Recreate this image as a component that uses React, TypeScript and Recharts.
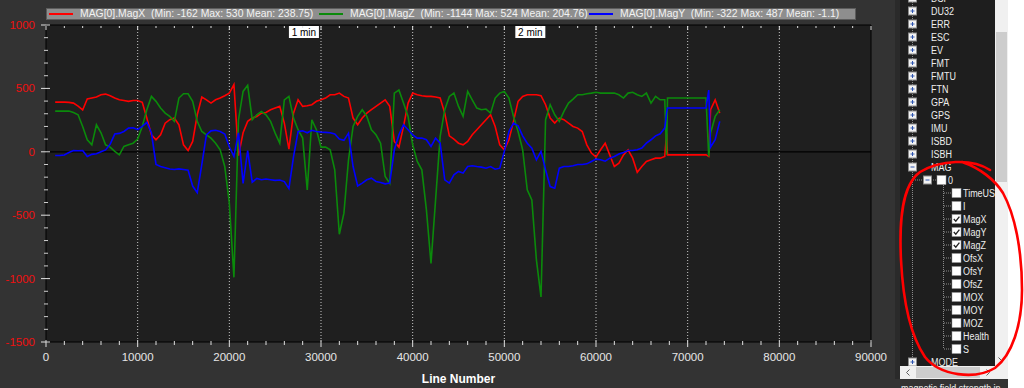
import React from 'react';
import { LineChart, Line, XAxis, YAxis, CartesianGrid, ReferenceLine, Legend } from 'recharts';

// line numbers sampled from the log (x axis)
const lineNumbers = [
  1000, 1500, 2000, 2500, 3000, 3500, 4000, 4500, 5000, 5500,
  6000, 6500, 7000, 7500, 8000, 8500, 9000, 9500, 10000, 10500,
  11000, 11500, 12000, 12500, 13000, 13500, 14000, 14500, 15000, 15500,
  16000, 16500, 17000, 17500, 18000, 18500, 19000, 19500, 20000, 20500,
  21000, 21500, 22000, 22500, 23000, 23500, 24000, 24500, 25000, 25500,
  26000, 26500, 27000, 27500, 28000, 28500, 29000, 29500, 30000, 30500,
  31000, 31500, 32000, 32500, 33000, 33500, 34000, 34500, 35000, 35500,
  36000, 36500, 37000, 37500, 38000, 38500, 39000, 39500, 40000, 40500,
  41000, 41500, 42000, 42500, 43000, 43500, 44000, 44500, 45000, 45500,
  46000, 46500, 47000, 47500, 48000, 48500, 49000, 49500, 50000, 50500,
  51000, 51500, 52000, 52500, 53000, 53500, 54000, 54500, 55000, 55500,
  56000, 56500, 57000, 57500, 58000, 58500, 59000, 59500, 60000, 60500,
  61000, 61500, 62000, 62500, 63000, 63500, 64000, 64500, 65000, 65500,
  66000, 66500, 67000, 67500, 67700, 67800, 68000, 68500, 69000, 69500,
  70000, 70500, 71000, 71500, 72000, 72300, 72500, 73000, 73500,
];

const magX = [
  392, 392, 392, 390, 384, 360, 330, 416, 424, 432,
  450, 455, 442, 424, 410, 405, 398, 405, 405, 390,
  266, 134, 95, 134, 226, 253, 266, 213, 55, 10,
  82, 292, 432, 410, 384, 410, 424, 442, 463, 530,
  -30, 150, 240, 266, 279, 305, 310, 332, 345, 358,
  226, 21, 305, 410, 358, 363, 371, 398, 410, 424,
  450, 450, 463, 437, 424, 266, 213, 266, 305, 332,
  358, 384, 410, 358, 82, 37, 200, 384, 463, 450,
  442, 437, 437, 432, 424, 305, 126, 100, 68, 55,
  82, 134, 174, 213, 253, 292, 200, 55, 16, 95,
  240, 398, 437, 450, 450, 450, 442, 371, 266, 226,
  266, 253, 226, 200, 187, 160, 55, -10, -42, 16,
  68, -24, -116, -90, -24, 16, -50, -162, -116, -76,
  -63, -50, -50, -37, 147, -24, -24, -24, -24, -24,
  -24, -24, -24, -24, -24, -37, 332, 410, 305,
];

const magZ = [
  321, 321, 321, 321, 310, 292, 200, 95, 55, 213,
  150, 55, 37, 3, -24, 42, 55, 68, 100, 200,
  332, 437, 398, 345, 305, 279, 240, 424, 458, 458,
  398, 240, 160, 134, 108, 68, 16, -116, -405, -990,
  253, 476, 524, 253, 292, 318, 292, 240, 147, 68,
  410, 437, 266, 174, 108, -300, 253, 174, 37, 37,
  16, -142, -650, -484, -63, 200, 279, 332, 279, 174,
  134, 68, -195, -248, 463, 487, 384, 279, 55, -76,
  -142, -458, -880, -379, 121, 332, 437, 463, 358, 279,
  476, 410, 345, 332, 337, 305, 424, 463, 476, 424,
  279, 160, 16, -300, -379, -853, -1144, 253, 371, 292,
  240, 318, 384, 416, 450, 450, 458, 463, 469, 463,
  463, 463, 463, 450, 424, 463, 469, 450, 437, 463,
  384, 437, 410, 410, -24, 424, 424, 424, 424, 424,
  424, 424, 424, 424, 424, -37, 147, 279, 332,
];

const magY = [
  -29, -29, -25, -5, 10, 8, 10, -37, -20, -15,
  0, 15, 60, 140, 145, 160, 187, 190, 175, 200,
  232, 150, -100, -116, -125, -135, -140, -135, -140, -145,
  -270, -322, -100, 134, 165, 170, 160, 140, 40, -37,
  150, -250, 10, -240, -210, -220, -215, -220, -225, -222,
  -235, -290, -40, 160, 165, 150, 170, 160, 155, 153,
  150, 140, 100, 90, 147, -116, -269, -247, -221, -208,
  -234, -242, -253, -247, 16, 134, 213, 174, 134, 108,
  108, 95, 42, 108, 68, -221, -247, -182, -155, -168,
  -116, -110, -116, -121, -129, -116, -137, -129, 3, 160,
  226, 205, 126, 68, 29, -63, 3, -142, -274, -287,
  -129, -116, -116, -110, -100, -100, -95, -76, -58, -63,
  -74, -50, -37, -18, -5, 10, 10, 16, 29, 68,
  95, 126, 142, 187, 305, 345, 345, 345, 345, 345,
  345, 345, 345, 345, 345, 487, 37, 95, 240,
];

const seriesKeys = ['magX', 'magZ', 'magY'];
const seriesNames = ['MAG[0].MagX', 'MAG[0].MagZ', 'MAG[0].MagY'];
const seriesStats = [
  '(Min: -162 Max: 530 Mean: 238.75)',
  '(Min: -1144 Max: 524 Mean: 204.76)',
  '(Min: -322 Max: 487 Mean: -1.1)',
];
const seriesColors = ['#ff0000', '#0b8a0b', '#0000ff'];

const yMajorTicks = [-1500, -1000, -500, 0, 500, 1000];
const yTicks = [
  -1500, -1400, -1300, -1200, -1100, -1000, -900, -800, -700, -600, -500, -400, -300,
  -200, -100, 0, 100, 200, 300, 400, 500, 600, 700, 800, 900, 1000,
];
const xMajorTicks = [0, 10000, 20000, 30000, 40000, 50000, 60000, 70000, 80000, 90000];
const xTicks = [
  0, 2000, 4000, 6000, 8000, 10000, 12000, 14000, 16000, 18000, 20000, 22000, 24000,
  26000, 28000, 30000, 32000, 34000, 36000, 38000, 40000, 42000, 44000, 46000, 48000,
  50000, 52000, 54000, 56000, 58000, 60000, 62000, 64000, 66000, 68000, 70000, 72000,
  74000, 76000, 78000, 80000, 82000, 84000, 86000, 88000, 90000,
];
const gridLines = [10000, 20000, 30000, 40000, 50000, 60000, 70000, 80000];
const minuteMarks = [26500, 51200];
const minuteLabels = ['1 min', '2 min'];

const treeGroups = ['DSF', 'DU32', 'ERR', 'ESC', 'EV', 'FMT', 'FMTU', 'FTN', 'GPA', 'GPS', 'IMU', 'ISBD', 'ISBH', 'MAG'];
const magFields = ['TimeUS', 'I', 'MagX', 'MagY', 'MagZ', 'OfsX', 'OfsY', 'OfsZ', 'MOX', 'MOY', 'MOZ', 'Health', 'S'];
const checkedFields = ['MagX', 'MagY', 'MagZ'];

const font = '"Liberation Sans", Arial, sans-serif';

const chartData = lineNumbers.map((line, i) => ({
  line,
  magX: magX[i],
  magY: magY[i],
  magZ: magZ[i],
}));

function YTick(props: any) {
  const { x, y, payload } = props;
  if (!yMajorTicks.includes(payload.value)) {
    return <line x1={x - 2} x2={x + 2} y1={y} y2={y} stroke="#d0d0d0" />;
  }
  return (
    <g>
      <line x1={x - 5} x2={x + 4} y1={y} y2={y} stroke="#e0e0e0" />
      <text x={x - 11} y={y + 4} textAnchor="end" fill="#f01010" fontSize={11.5} fontFamily={font}>
        {payload.value}
      </text>
    </g>
  );
}

function XTick(props: any) {
  const { x, y, payload } = props;
  const major = xMajorTicks.includes(payload.value);
  return (
    <g>
      <line x1={x} x2={x} y1={major ? y - 2 : y - 1} y2={major ? y + 5 : y + 3} stroke="#e0e0e0" />
      {major && (
        <text x={x} y={y + 19} textAnchor="middle" fill="#e6e6e6" fontSize={11.5} fontFamily={font}>
          {payload.value}
        </text>
      )}
    </g>
  );
}

function TopTick(props: any) {
  const { x, y, payload } = props;
  const major = xMajorTicks.includes(payload.value);
  return <line x1={x} x2={x} y1={y + 1} y2={major ? y + 5 : y + 3} stroke="#e0e0e0" />;
}

function MinuteLabel({ viewBox, text }: any) {
  if (!viewBox) return null;
  return (
    <g>
      <rect x={viewBox.x} y={viewBox.y + 1} width={30} height={12} fill="#ffffff" />
      <text x={viewBox.x + 15} y={viewBox.y + 10.5} textAnchor="middle" fill="#000" fontSize={10} fontFamily={font}>
        {text}
      </text>
    </g>
  );
}

function LegendBox() {
  return (
    <div
      style={{
        width: 808,
        height: 10,
        background: '#8e8e8e',
        border: '1px solid #5c5c5c',
        display: 'flex',
        alignItems: 'center',
        fontFamily: font,
        fontSize: 10.4,
        color: '#f2f2f2',
        whiteSpace: 'pre',
        lineHeight: '10px',
      }}
    >
      {seriesNames.map((name, i) => (
        <div key={name} style={{ width: 270, flexShrink: 0, display: 'flex', alignItems: 'center' }}>
          <div style={{ width: 24, flexShrink: 0, height: 2, marginLeft: 2, marginRight: 7, background: seriesColors[i] }} />
          <span>{name + '  ' + seriesStats[i]}</span>
        </div>
      ))}
    </div>
  );
}

function Expander({ cx, cy, open }: { cx: number; cy: number; open: boolean }) {
  return (
    <g>
      <rect x={cx - 4} y={cy - 4} width={8} height={8} fill="#f2f2f2" stroke="#8c8c8c" />
      <line x1={cx - 2} x2={cx + 2} y1={cy} y2={cy} stroke="#2d55b0" />
      {!open && <line x1={cx} x2={cx} y1={cy - 2} y2={cy + 2} stroke="#2d55b0" />}
    </g>
  );
}

function CheckBox({ x, cy, checked }: { x: number; cy: number; checked: boolean }) {
  return (
    <g>
      <rect x={x} y={cy - 4.5} width={9} height={9} fill="#ffffff" stroke="#9a9a9a" strokeWidth={0.5} />
      {checked && (
        <path
          d={`M${x + 1.8} ${cy} L${x + 3.8} ${cy + 2.2} L${x + 7.4} ${cy - 2.4}`}
          stroke="#222"
          strokeWidth={1.3}
          fill="none"
        />
      )}
    </g>
  );
}

function TreeText({ x, y, children }: { x: number; y: number; children: React.ReactNode }) {
  return (
    <text
      transform={`translate(${x} ${y}) scale(0.78 1)`}
      fill="#ededed"
      fontFamily={font}
      fontSize={11.5}
    >
      {children}
    </text>
  );
}

function SidePanel() {
  const rowY = (i: number) => -2 + 13 * i;
  return (
    <svg width={1024} height={388} style={{ position: 'absolute', left: 0, top: 0 }}>
      <rect x={895} y={0} width={5} height={388} fill="#2a2a2a" />
      <rect x={900} y={0} width={95} height={366} fill="#1e1e1e" />
      <line x1={912.5} x2={912.5} y1={0} y2={363} stroke="#8a8a8a" strokeDasharray="1 1" />
      {treeGroups.map((g, i) => (
        <g key={g}>
          <Expander cx={912.5} cy={rowY(i)} open={g === 'MAG'} />
          <TreeText x={931} y={rowY(i) + 4}>{g}</TreeText>
        </g>
      ))}
      {/* channel 0 */}
      <line x1={913} x2={924} y1={rowY(14)} y2={rowY(14)} stroke="#8a8a8a" strokeDasharray="1 1" />
      <line x1={931} x2={937} y1={rowY(14)} y2={rowY(14)} stroke="#8a8a8a" strokeDasharray="1 1" />
      <Expander cx={927.5} cy={rowY(14)} open={true} />
      <CheckBox x={937} cy={rowY(14)} checked={false} />
      <TreeText x={948} y={rowY(14) + 4}>0</TreeText>
      <line x1={943.5} x2={943.5} y1={rowY(14) + 5} y2={rowY(27)} stroke="#8a8a8a" strokeDasharray="1 1" />
      {magFields.map((f, j) => {
        const cy = rowY(15 + j);
        return (
          <g key={f}>
            <line x1={944} x2={952} y1={cy} y2={cy} stroke="#8a8a8a" strokeDasharray="1 1" />
            <CheckBox x={952} cy={cy} checked={checkedFields.includes(f)} />
            <TreeText x={963} y={cy + 4}>{f}</TreeText>
          </g>
        );
      })}
      <Expander cx={912.5} cy={rowY(28)} open={false} />
      <TreeText x={931} y={rowY(28) + 4}>MODE</TreeText>
      {/* scroll bars */}
      <rect x={995} y={0} width={13} height={366} fill="#f0f0f0" />
      <rect x={996} y={32} width={11} height={150} fill="#cdcdcd" />
      <path d="M998.5 357.5 L1001.5 360.5 L1004.5 357.5" stroke="#606060" fill="none" />
      <rect x={900} y={366} width={95} height={13} fill="#f0f0f0" />
      <rect x={916} y={367} width={64} height={11} fill="#cdcdcd" />
      <path d="M909.5 369.5 L906.5 372.5 L909.5 375.5" stroke="#606060" fill="none" />
      <path d="M986.5 369.5 L989.5 372.5 L986.5 375.5" stroke="#606060" fill="none" />
      <rect x={995} y={366} width={13} height={13} fill="#f0f0f0" />
      <rect x={1008} y={0} width={16} height={388} fill="#ffffff" />
      <rect x={895} y={379} width={113} height={9} fill="#333333" />
      <TreeText x={901} y={392}>magnetic field strength in</TreeText>
      {/* hand drawn annotation */}
      <path
        d="M990 170 C972 158, 940 160, 920 172 C902 185, 899 220, 901 260 C903 300, 910 335, 925 357 C940 376, 975 380, 995 368 C1012 355, 1022 325, 1022 290 C1022 250, 1015 215, 1003 193 C995 180, 980 168, 962 162"
        stroke="#ff0000"
        strokeWidth={2.6}
        fill="none"
        strokeLinecap="round"
      />
    </svg>
  );
}

export default function App() {
  return (
    <div style={{ position: 'fixed', left: 0, top: 0, width: 1024, height: 388, background: '#333333', overflow: 'hidden' }}>
      <div style={{ position: 'absolute', left: 0, top: 0 }}>
        <LineChart width={897} height={388} data={chartData} margin={{ top: 24, right: 26, bottom: 0, left: 0 }}>
          <CartesianGrid horizontal={false} vertical={false} fill="#1f1f1f" fillOpacity={1} />
          <XAxis
            dataKey="line"
            type="number"
            domain={[0, 90000]}
            ticks={xTicks}
            interval={0}
            height={46}
            tickSize={0}
            tickMargin={0}
            tickLine={false}
            tick={<XTick />}
            axisLine={{ stroke: '#000' }}
            label={{ value: 'Line Number', position: 'insideBottom', offset: 5, fill: '#ffffff', fontWeight: 'bold', fontSize: 12, fontFamily: font }}
          />
          <XAxis
            xAxisId="top"
            orientation="top"
            dataKey="line"
            type="number"
            domain={[0, 90000]}
            ticks={xTicks}
            interval={0}
            height={1}
            tickSize={0}
            tickMargin={0}
            tickLine={false}
            tick={<TopTick />}
            axisLine={{ stroke: '#000' }}
          />
          <YAxis
            type="number"
            domain={[-1500, 1000]}
            ticks={yTicks}
            interval={0}
            width={46}
            tickSize={0}
            tickMargin={0}
            tickLine={false}
            tick={<YTick />}
            axisLine={{ stroke: '#000' }}
          />
          {gridLines.map((g) => (
            <ReferenceLine key={g} x={g} stroke="#c8c8c8" strokeDasharray="1 2" />
          ))}
          <ReferenceLine x={90000} stroke="#000" />
          <ReferenceLine y={0} stroke="#000" strokeWidth={1.2} />
          {minuteMarks.map((m, i) => (
            <ReferenceLine
              key={m}
              x={m}
              stroke="none"
              label={(p: any) => <MinuteLabel viewBox={p.viewBox} text={minuteLabels[i]} />}
            />
          ))}
          {seriesKeys.map((k, i) => (
            <Line
              key={k}
              dataKey={k}
              name={seriesNames[i]}
              stroke={seriesColors[i]}
              strokeWidth={1.6}
              dot={false}
              activeDot={false}
              type="linear"
              isAnimationActive={false}
            />
          ))}
          <Legend
            layout="horizontal"
            verticalAlign="middle"
            align="center"
            wrapperStyle={{ top: 8, left: 46, width: 810, height: 12 }}
            content={() => <LegendBox />}
          />
        </LineChart>
      </div>
      <SidePanel />
    </div>
  );
}
